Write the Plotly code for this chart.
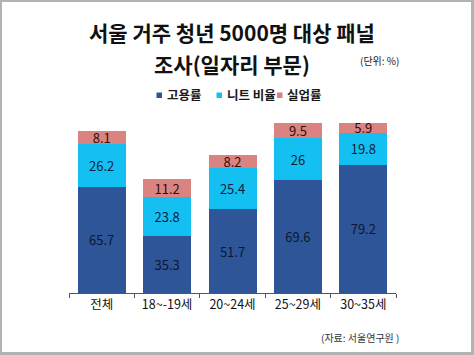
import plotly.graph_objects as go

categories = ["전체", "18~-19세", "20~24세", "25~29세", "30~35세"]
series_names = ["고용률", "니트 비율", "실업률"]
employment = [65.7, 35.3, 51.7, 69.6, 79.2]
neet = [26.2, 23.8, 25.4, 26.0, 19.8]
unemployment = [8.1, 11.2, 8.2, 9.5, 5.9]
series_values = [employment, neet, unemployment]
colors = ["#2E5597", "#14C0F2", "#DB8380"]
text_colors = ["#0C1733", "#0F1E3A", "#2E0F0F"]

FONT = "Noto Sans CJK KR"
W, H = 474, 355
L, R, T, B = 69, 78, 110, 62
PW, PH = W - L - R, H - T - B

def px(xp):
    return (xp - L) / PW

def py(yp):
    return (H - B - yp) / PH

fig = go.Figure()
for name, vals, c, tc in zip(series_names, series_values, colors, text_colors):
    fig.add_trace(go.Bar(
        x=categories, y=vals, name=name, marker=dict(color=c, line=dict(width=0)),
        text=[f"{v:g}" for v in vals], textposition="inside",
        insidetextanchor="middle", textangle=0,
        textfont=dict(family=FONT, size=13, color=tc),
        hoverinfo="skip", showlegend=False,
    ))

shapes = [
    dict(type="rect", xref="paper", yref="paper", x0=px(2), x1=px(471), y0=py(352), y1=py(2),
         fillcolor="white", line=dict(width=0), layer="below"),
]
annotations = [
    dict(text="<b>서울 거주 청년 5000명 대상 패널</b>", x=px(232), y=py(32), xref="paper", yref="paper",
         showarrow=False, font=dict(family=FONT, size=21, color="#111111"), xanchor="center", yanchor="middle"),
    dict(text="<b>조사(일자리 부문)</b>", x=px(232), y=py(63.5), xref="paper", yref="paper",
         showarrow=False, font=dict(family=FONT, size=21, color="#111111"), xanchor="center", yanchor="middle"),
    dict(text="(단위: %)", x=px(379), y=py(61), xref="paper", yref="paper",
         showarrow=False, font=dict(family=FONT, size=10, color="#222222"), xanchor="center", yanchor="middle"),
    dict(text="(자료: 서울연구원 )", x=px(401), y=py(337), xref="paper", yref="paper",
         showarrow=False, font=dict(family=FONT, size=10, color="#333333"), xanchor="right", yanchor="middle"),
]
leg_sq = [156.5, 216.5, 277]
for name, c, sx in zip(series_names, colors, leg_sq):
    shapes.append(dict(type="rect", xref="paper", yref="paper", x0=px(sx), x1=px(sx + 5.5),
                       y0=py(98), y1=py(92.5), fillcolor=c, line=dict(width=0)))
    annotations.append(dict(text=f"<b>{name}</b>", x=px(sx + 8), y=py(95), xref="paper", yref="paper",
                            showarrow=False, font=dict(family=FONT, size=12.5, color="#1a1a1a"),
                            xanchor="left", yanchor="middle"))

fig.update_layout(
    width=W, height=H, barmode="stack", bargap=0.266,
    margin=dict(l=L, r=R, t=T, b=B, pad=0),
    paper_bgcolor="#B3B3B3", plot_bgcolor="rgba(0,0,0,0)",
    font=dict(family=FONT),
    uniformtext=dict(minsize=13, mode="show"),
    shapes=shapes, annotations=annotations,
    xaxis=dict(type="category", showline=True, linecolor="#555555", linewidth=1,
               ticks="outside", tickson="boundaries", ticklen=4, tickcolor="#555555",
               tickfont=dict(family=FONT, size=12.5, color="#111111"), showgrid=False,
               range=[-0.5, 4.5], fixedrange=True),
    yaxis=dict(range=[0, PH / 1.62], visible=False, showgrid=False, fixedrange=True),
    showlegend=False,
)
fig.write_html("out.html", config={"displayModeBar": False},
               post_script="document.body.style.margin='0';document.body.style.padding='0';document.body.style.overflow='hidden';")
